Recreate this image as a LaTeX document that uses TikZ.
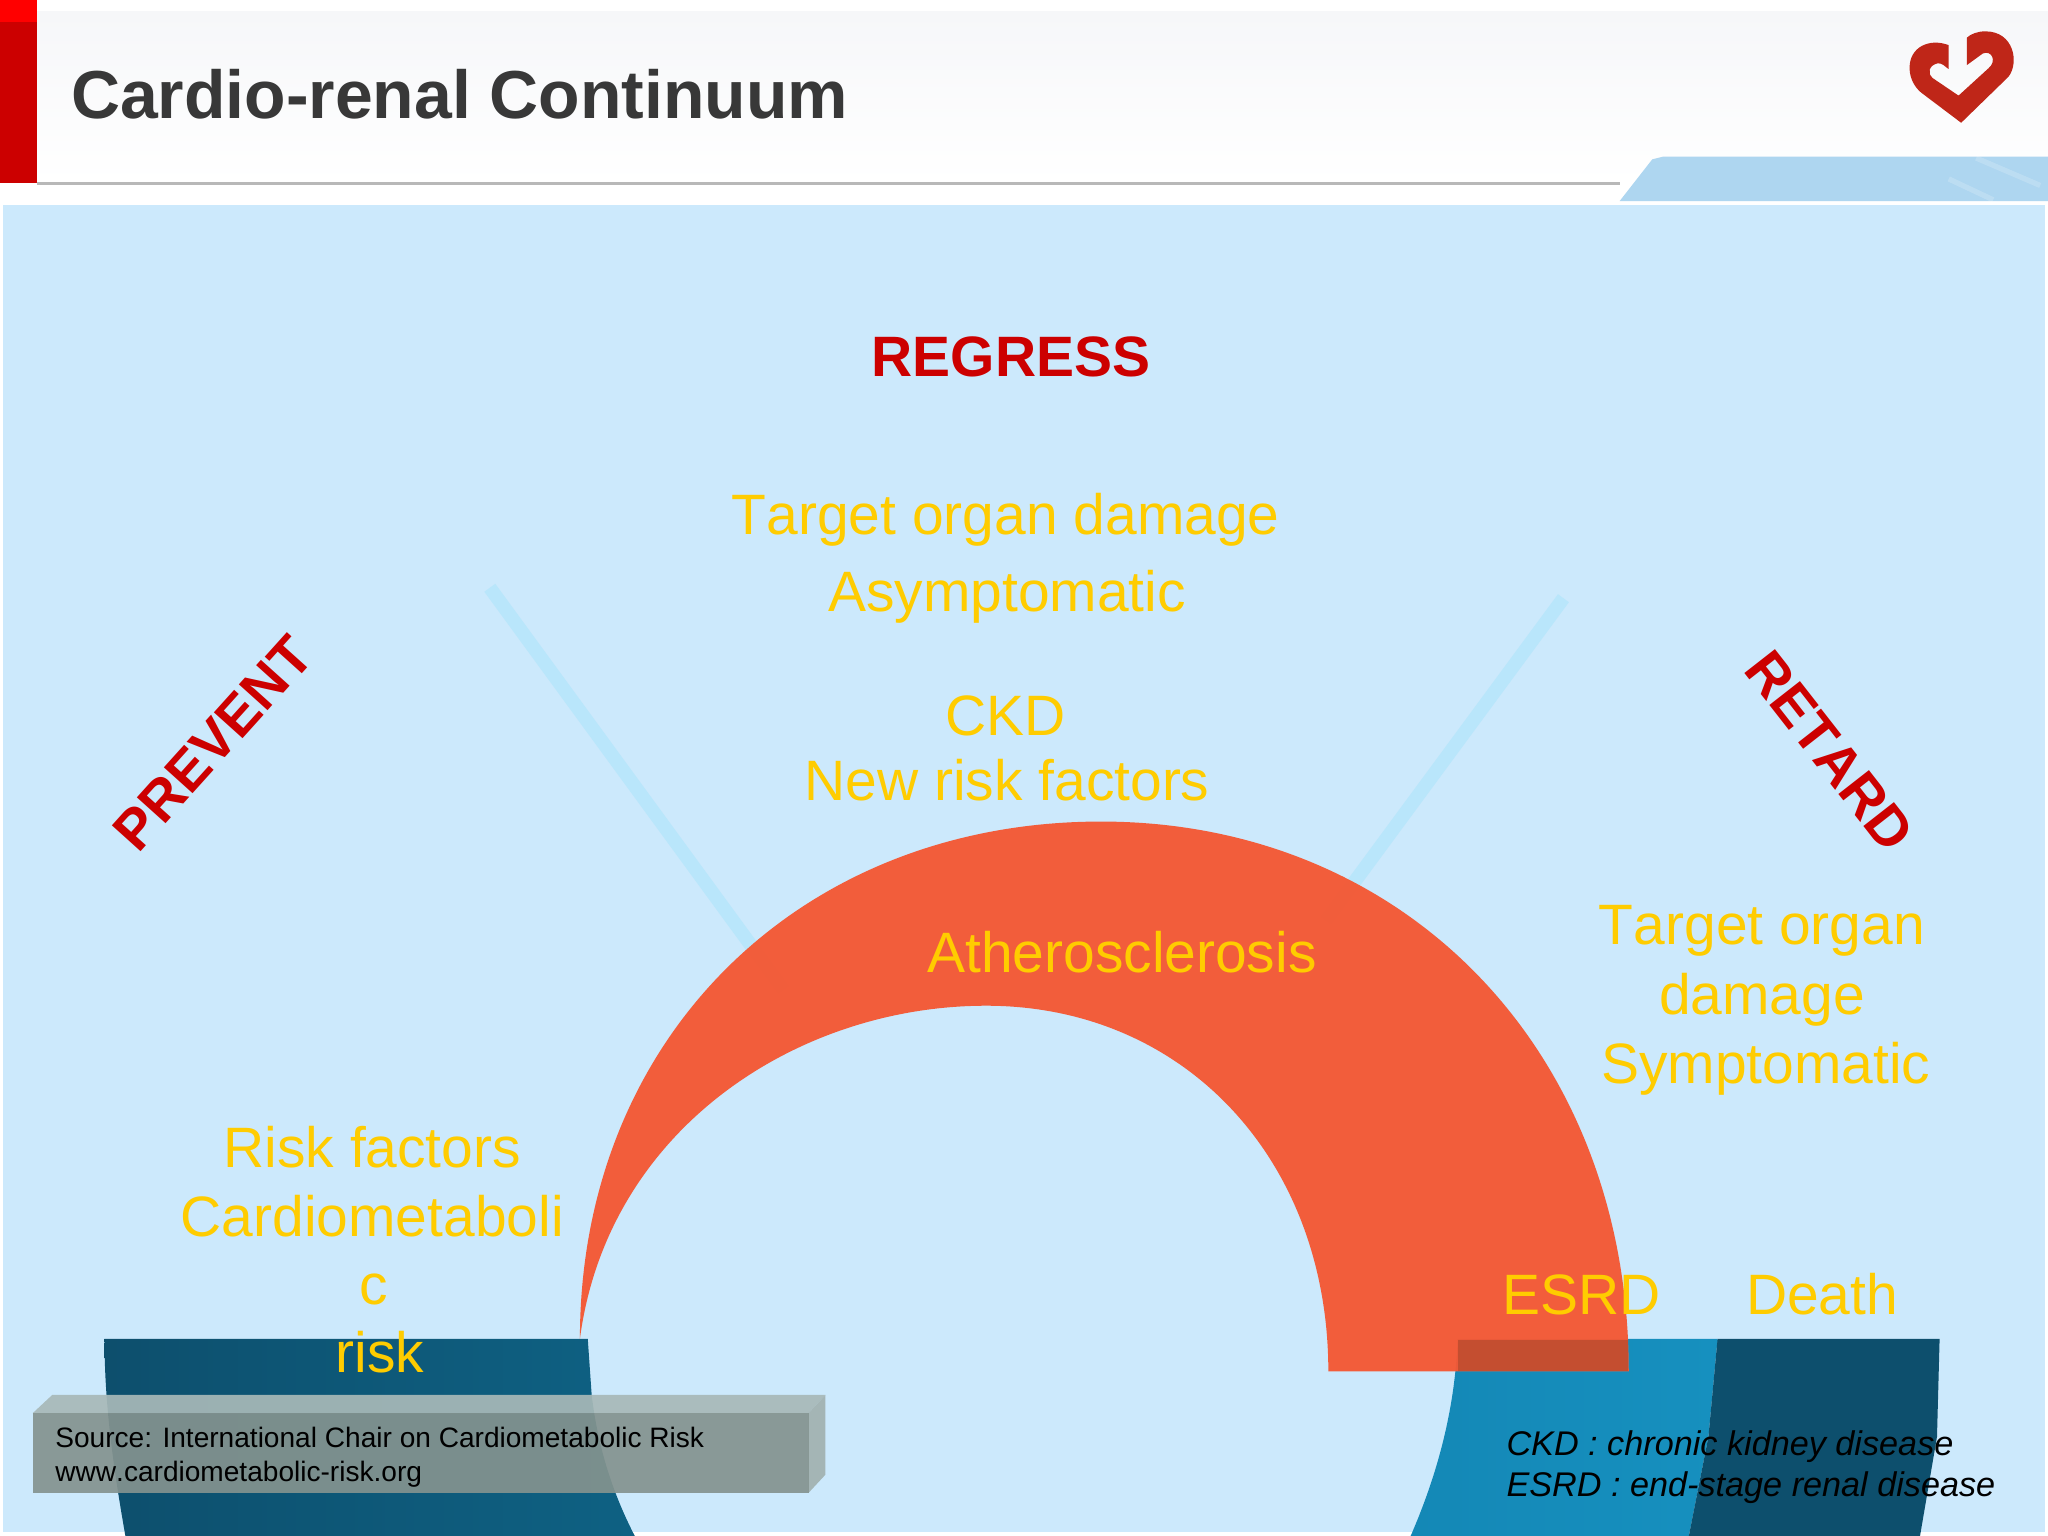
\documentclass[tikz,border=0pt]{standalone}
\usepackage{fontspec}
\setmainfont[Kerning=Off]{Liberation Sans}
\usetikzlibrary{calc}
\usepackage{xcolor}
\definecolor{hred}{HTML}{cc0000}
\definecolor{hgold}{HTML}{ffcc00}
\definecolor{hsky}{HTML}{cce9fc}
\definecolor{hray}{HTML}{b9e6fb}
\definecolor{harch}{HTML}{f45834}
\definecolor{hover}{HTML}{c44e30}
\definecolor{hdark}{HTML}{0d4f6d}
\definecolor{hdarkb}{HTML}{0e6183}
\definecolor{hmid}{HTML}{1690bf}
\definecolor{hmida}{HTML}{1488b6}
\definecolor{hband}{HTML}{aed6f0}
\definecolor{hlogo}{HTML}{bf2618}
\definecolor{hhead}{HTML}{f6f7f9}
\definecolor{hfront}{HTML}{84938f}
\definecolor{hside}{HTML}{a8b9b8}
\tikzset{
  gold/.style={text=hgold, anchor=base, inner sep=0pt, font=\fontsize{21.8}{24}\selectfont},
  stage/.style={text=hred, inner sep=0pt, font=\fontsize{21.8}{24}\selectfont\bfseries},
  small/.style={text=black, anchor=base west, inner sep=0pt, font=\fontsize{10.75}{13}\selectfont},
  note/.style={text=black, anchor=base west, inner sep=0pt, font=\fontsize{13.1}{15}\selectfont\itshape},
}

\begin{document}
\begin{tikzpicture}[x=0.5pt,y=-0.5pt]
  \useasboundingbox (0,0) rectangle (1568,1176);
  % header
  \fill[white] (0,0) rectangle (1568,1176);
  \shade[top color=hhead, bottom color=white] (28,9) rectangle (1568,140);
  \fill[hred] (0,0) rectangle (28,140);
  \fill[red] (0,0) rectangle (28,17);
  \draw[color=black!28, line width=1pt] (28,140.5) -- (1240,140.5);
  \fill[hband] (1240,154) -- (1265,122) -- (1273,120) -- (1568,120) -- (1568,154) -- cycle;
  \draw[color=white, opacity=0.18, line width=2pt] (1513,121) -- (1562,142);
  \draw[color=white, opacity=0.18, line width=2pt] (1492,137) -- (1526,153);
  \node[anchor=base west, inner sep=0pt, text=black!78, font=\fontsize{26}{30}\selectfont\bfseries] (title) at (54,91) {Cardio-renal Continuum};
  % logo
  \fill[color=hlogo] (1501.5,94) -- (1537.8,58.7)
    .. controls (1546,48) and (1542,24) .. (1520,24)
    .. controls (1514,24) and (1509,26) .. (1505.9,28.8) -- (1505.9,49.8) -- (1518,41)
    .. controls (1525,38) and (1529,47) .. (1522.4,52.3) -- (1499.5,73.2) -- (1480,60)
    .. controls (1475,56) and (1477,50) .. (1483.4,48.5)
    .. controls (1487,48) and (1489,51) .. (1491.8,52.8) -- (1491.8,34.5)
    .. controls (1477,29) and (1462,36) .. (1462,52)
    .. controls (1462,60) and (1466,67) .. (1471,71) -- cycle;
  % main panel
  \fill[hsky] (2,157) rectangle (1566,1173);
  % rays
  \coordinate (rayA) at (375,450);
  \coordinate (rayB) at (600,758);
  \coordinate (rayC) at (1197,458);
  \coordinate (rayD) at (1015,705);
  \draw[color=hray, line width=5.2pt] (rayA) -- (rayB);
  \draw[color=hray, line width=5.2pt] (rayC) -- (rayD);
  % blue bands
  \shade[left color=hdark, right color=hdarkb] (80,1025) -- (450,1025) -- (453,1068) .. controls (458,1110) and (470,1145) .. (486,1176) -- (96,1176) .. controls (88,1130) and (80,1080) .. cycle;
  \shade[left color=hmida, right color=hmid] (1116,1025) -- (1315,1025) -- (1308,1100) -- (1293,1176) -- (1080,1176) .. controls (1100,1130) and (1114,1080) .. cycle;
  \fill[hdark] (1315,1025) -- (1485,1025) -- (1483,1100) -- (1470,1176) -- (1293,1176) -- (1308,1100) -- cycle;
  % arch
  \fill[color=harch, fill opacity=0.96] (444,1025)
    .. controls (444,795) and (612,629) .. (843,629)
    .. controls (1077,629) and (1247,806) .. (1247,1050)
    -- (1017,1050)
    .. controls (1017,888) and (907,770) .. (755,770)
    .. controls (610,770) and (465,865) .. (444,1025) -- cycle;
  \fill[color=hover] (1116,1026) rectangle (1246.5,1050);
  % source box
  \fill[color=hside, opacity=0.92] (25,1082) -- (40,1068) -- (632,1068) -- (619,1082) -- cycle;
  \fill[color=hside!80!hfront, opacity=0.92] (619,1082) -- (632,1068) -- (632,1129) -- (619,1143) -- cycle;
  \fill[color=hfront, opacity=0.92] (25,1082) rectangle (619,1143);
  \node[small] (source) at (42,1108) {Source: International Chair on Cardiometabolic Risk};
  \node[small] (site) at (42,1134) {www.cardiometabolic-risk.org};
  % stage labels
  \node[stage] (regress) at (774,273) {REGRESS};
  \node[stage, rotate=48, font=\fontsize{21.5}{24}\selectfont\bfseries] (prevent) at (163,569) {PREVENT};
  \node[stage, rotate=-52, font=\fontsize{21.6}{24}\selectfont\bfseries] (retard) at (1401,575) {RETARD};
  \node[gold] (organA) at (770,409.5) {Target organ damage};
  \node[gold] (asym) at (771,468.5) {Asymptomatic};
  \node[gold] (ckd) at (770,563) {CKD};
  \node[gold] (newrisk) at (771,612.5) {New risk factors};
  \node[gold] (athero) at (859,744.5) {Atherosclerosis};
  \node[gold] (organB) at (1349,723.5) {Target organ};
  \node[gold] (damage) at (1349,776.5) {damage};
  \node[gold] (sympt) at (1352,829.5) {Symptomatic};
  \node[gold] (riskA) at (285,893.5) {Risk factors};
  \node[gold] (cardio) at (285,946.5) {Cardiometaboli};
  \node[gold] (letter) at (286,998.5) {c};
  \node[gold] (riskB) at (291,1051) {risk};
  \node[gold] (esrd) at (1211,1006.5) {ESRD};
  \node[gold] (death) at (1395,1006.5) {Death};
  \node[note] (noteA) at (1153,1114) {CKD : chronic kidney disease};
  \node[note] (noteB) at (1153,1146) {ESRD : end-stage renal disease};
\end{tikzpicture}
\end{document}
